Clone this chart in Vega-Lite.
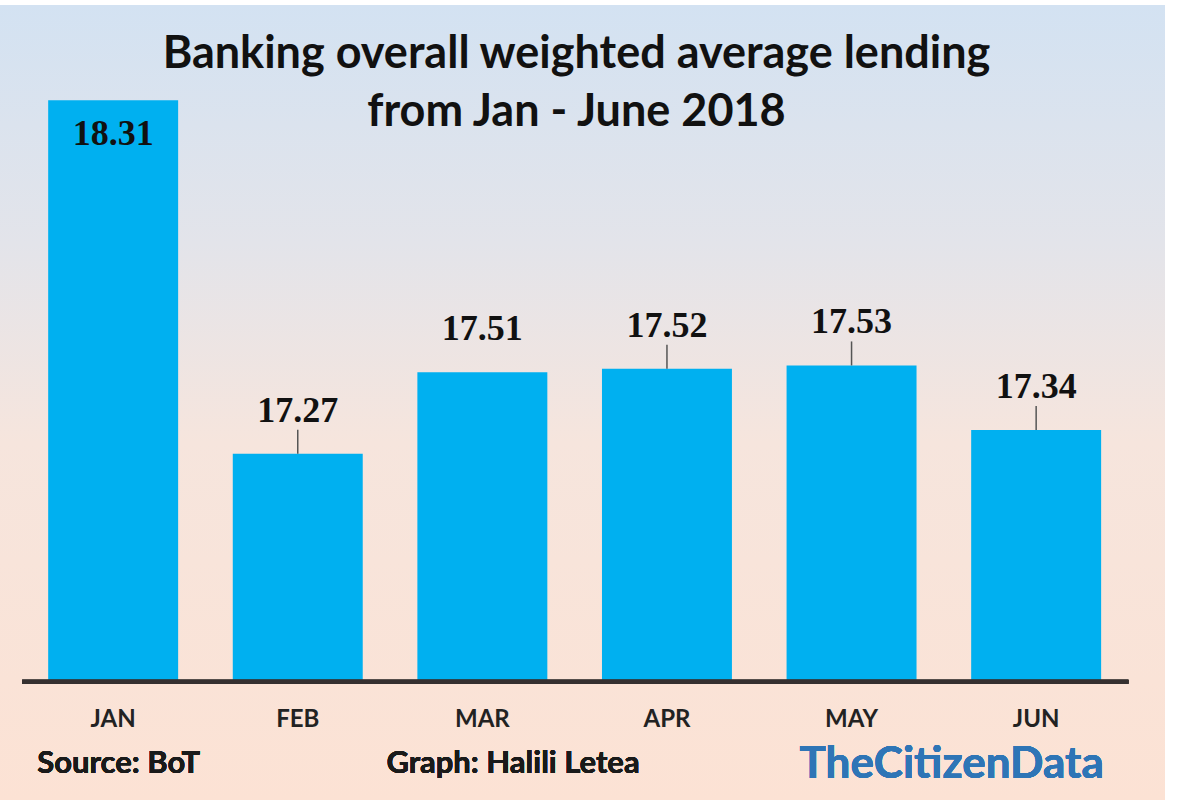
{
  "$schema": "https://vega.github.io/schema/vega-lite/v6.json",
  "width": 1165,
  "height": 795,
  "autosize": {"type": "none"},
  "padding": {"left": 0, "top": 5, "right": 35, "bottom": 0},
  "background": "#ffffff",
  "title": {
    "text": ["Banking overall weighted average lending", "from Jan - June 2018"],
    "anchor": "middle",
    "frame": "group",
    "offset": -130,
    "dx": -6,
    "font": "Lato",
    "fontSize": 45,
    "fontWeight": "bold",
    "color": "#111111",
    "lineHeight": 58
  },
  "config": {
    "view": {
      "stroke": null,
      "fill": {
        "gradient": "linear",
        "x1": 0, "y1": 0, "x2": 0, "y2": 1,
        "stops": [
          {"offset": 0, "color": "#d3e2f2"},
          {"offset": 0.3, "color": "#e3e4ea"},
          {"offset": 0.55, "color": "#f6e5dd"},
          {"offset": 1, "color": "#fce2d4"}
        ]
      }
    }
  },
  "data": {
    "values": [
      {"month": "JAN", "value": 18.31},
      {"month": "FEB", "value": 17.27},
      {"month": "MAR", "value": 17.51},
      {"month": "APR", "value": 17.52},
      {"month": "MAY", "value": 17.53},
      {"month": "JUN", "value": 17.34}
    ]
  },
  "encoding": {
    "x": {
      "field": "month",
      "type": "nominal",
      "sort": null,
      "scale": {"paddingInner": 0.296, "paddingOuter": 0.3035, "align": 0.43},
      "axis": {
        "orient": "bottom",
        "offset": -117,
        "domain": false,
        "ticks": false,
        "grid": false,
        "title": null,
        "labelAngle": 0,
        "labelFont": "Lato",
        "labelFontSize": 24,
        "labelFontWeight": "bold",
        "labelColor": "#222222",
        "labelBaseline": "top",
        "labelPadding": 24
      }
    },
    "y": {
      "field": "value",
      "type": "quantitative",
      "scale": {"domain": [16.252, 18.59], "nice": false, "zero": false},
      "axis": null
    }
  },
  "layer": [
    {
      "mark": {"type": "bar", "color": "#00b0f0"},
      "encoding": {"y2": {"datum": 16.6}}
    },
    {
      "transform": [{"filter": "datum.month != 'JAN' && datum.month != 'MAR'"}],
      "mark": {"type": "rule", "color": "#555555", "strokeWidth": 1.5, "y2Offset": -24},
      "encoding": {"y2": {"field": "value"}}
    },
    {
      "transform": [{"filter": "datum.month != 'JAN'"}],
      "mark": {"type": "text", "dy": -32, "baseline": "alphabetic", "font": "Liberation Serif", "fontSize": 36, "fontWeight": "bold", "color": "#111111"},
      "encoding": {"text": {"field": "value", "type": "quantitative", "format": ".2f"}}
    },
    {
      "transform": [{"filter": "datum.month == 'JAN'"}],
      "mark": {"type": "text", "dy": 45, "baseline": "alphabetic", "font": "Liberation Serif", "fontSize": 36, "fontWeight": "bold", "color": "#111111"},
      "encoding": {"text": {"field": "value", "type": "quantitative", "format": ".2f"}}
    },
    {
      "mark": {"type": "rule", "color": "#353030", "strokeWidth": 4},
      "encoding": {
        "x": {"datum": "JAN", "bandPosition": -0.2},
        "x2": {"datum": "JUN", "bandPosition": 1.21},
        "y": {"datum": 16.6}
      }
    },
    {
      "mark": {"type": "text", "align": "left", "baseline": "alphabetic", "dx": -11, "font": "Lato", "fontSize": 31, "fontWeight": "bold", "color": "#1a1a1a"},
      "encoding": {
        "x": {"datum": "JAN", "bandPosition": 0},
        "y": {"datum": 16.331},
        "text": {"value": "Source: BoT"}
      }
    },
    {
      "mark": {"type": "text", "align": "left", "baseline": "alphabetic", "dx": -31, "font": "Lato", "fontSize": 31, "fontWeight": "bold", "color": "#1a1a1a"},
      "encoding": {
        "x": {"datum": "MAR", "bandPosition": 0},
        "y": {"datum": 16.331},
        "text": {"value": "Graph: Halili Letea"}
      }
    },
    {
      "mark": {"type": "text", "align": "left", "baseline": "alphabetic", "dx": 13, "font": "Lato", "fontSize": 44, "fontWeight": "bold", "color": "#2e75b6"},
      "encoding": {
        "x": {"datum": "MAY", "bandPosition": 0},
        "y": {"datum": 16.317},
        "text": {"value": "TheCitizenData"}
      }
    }
  ]
}
